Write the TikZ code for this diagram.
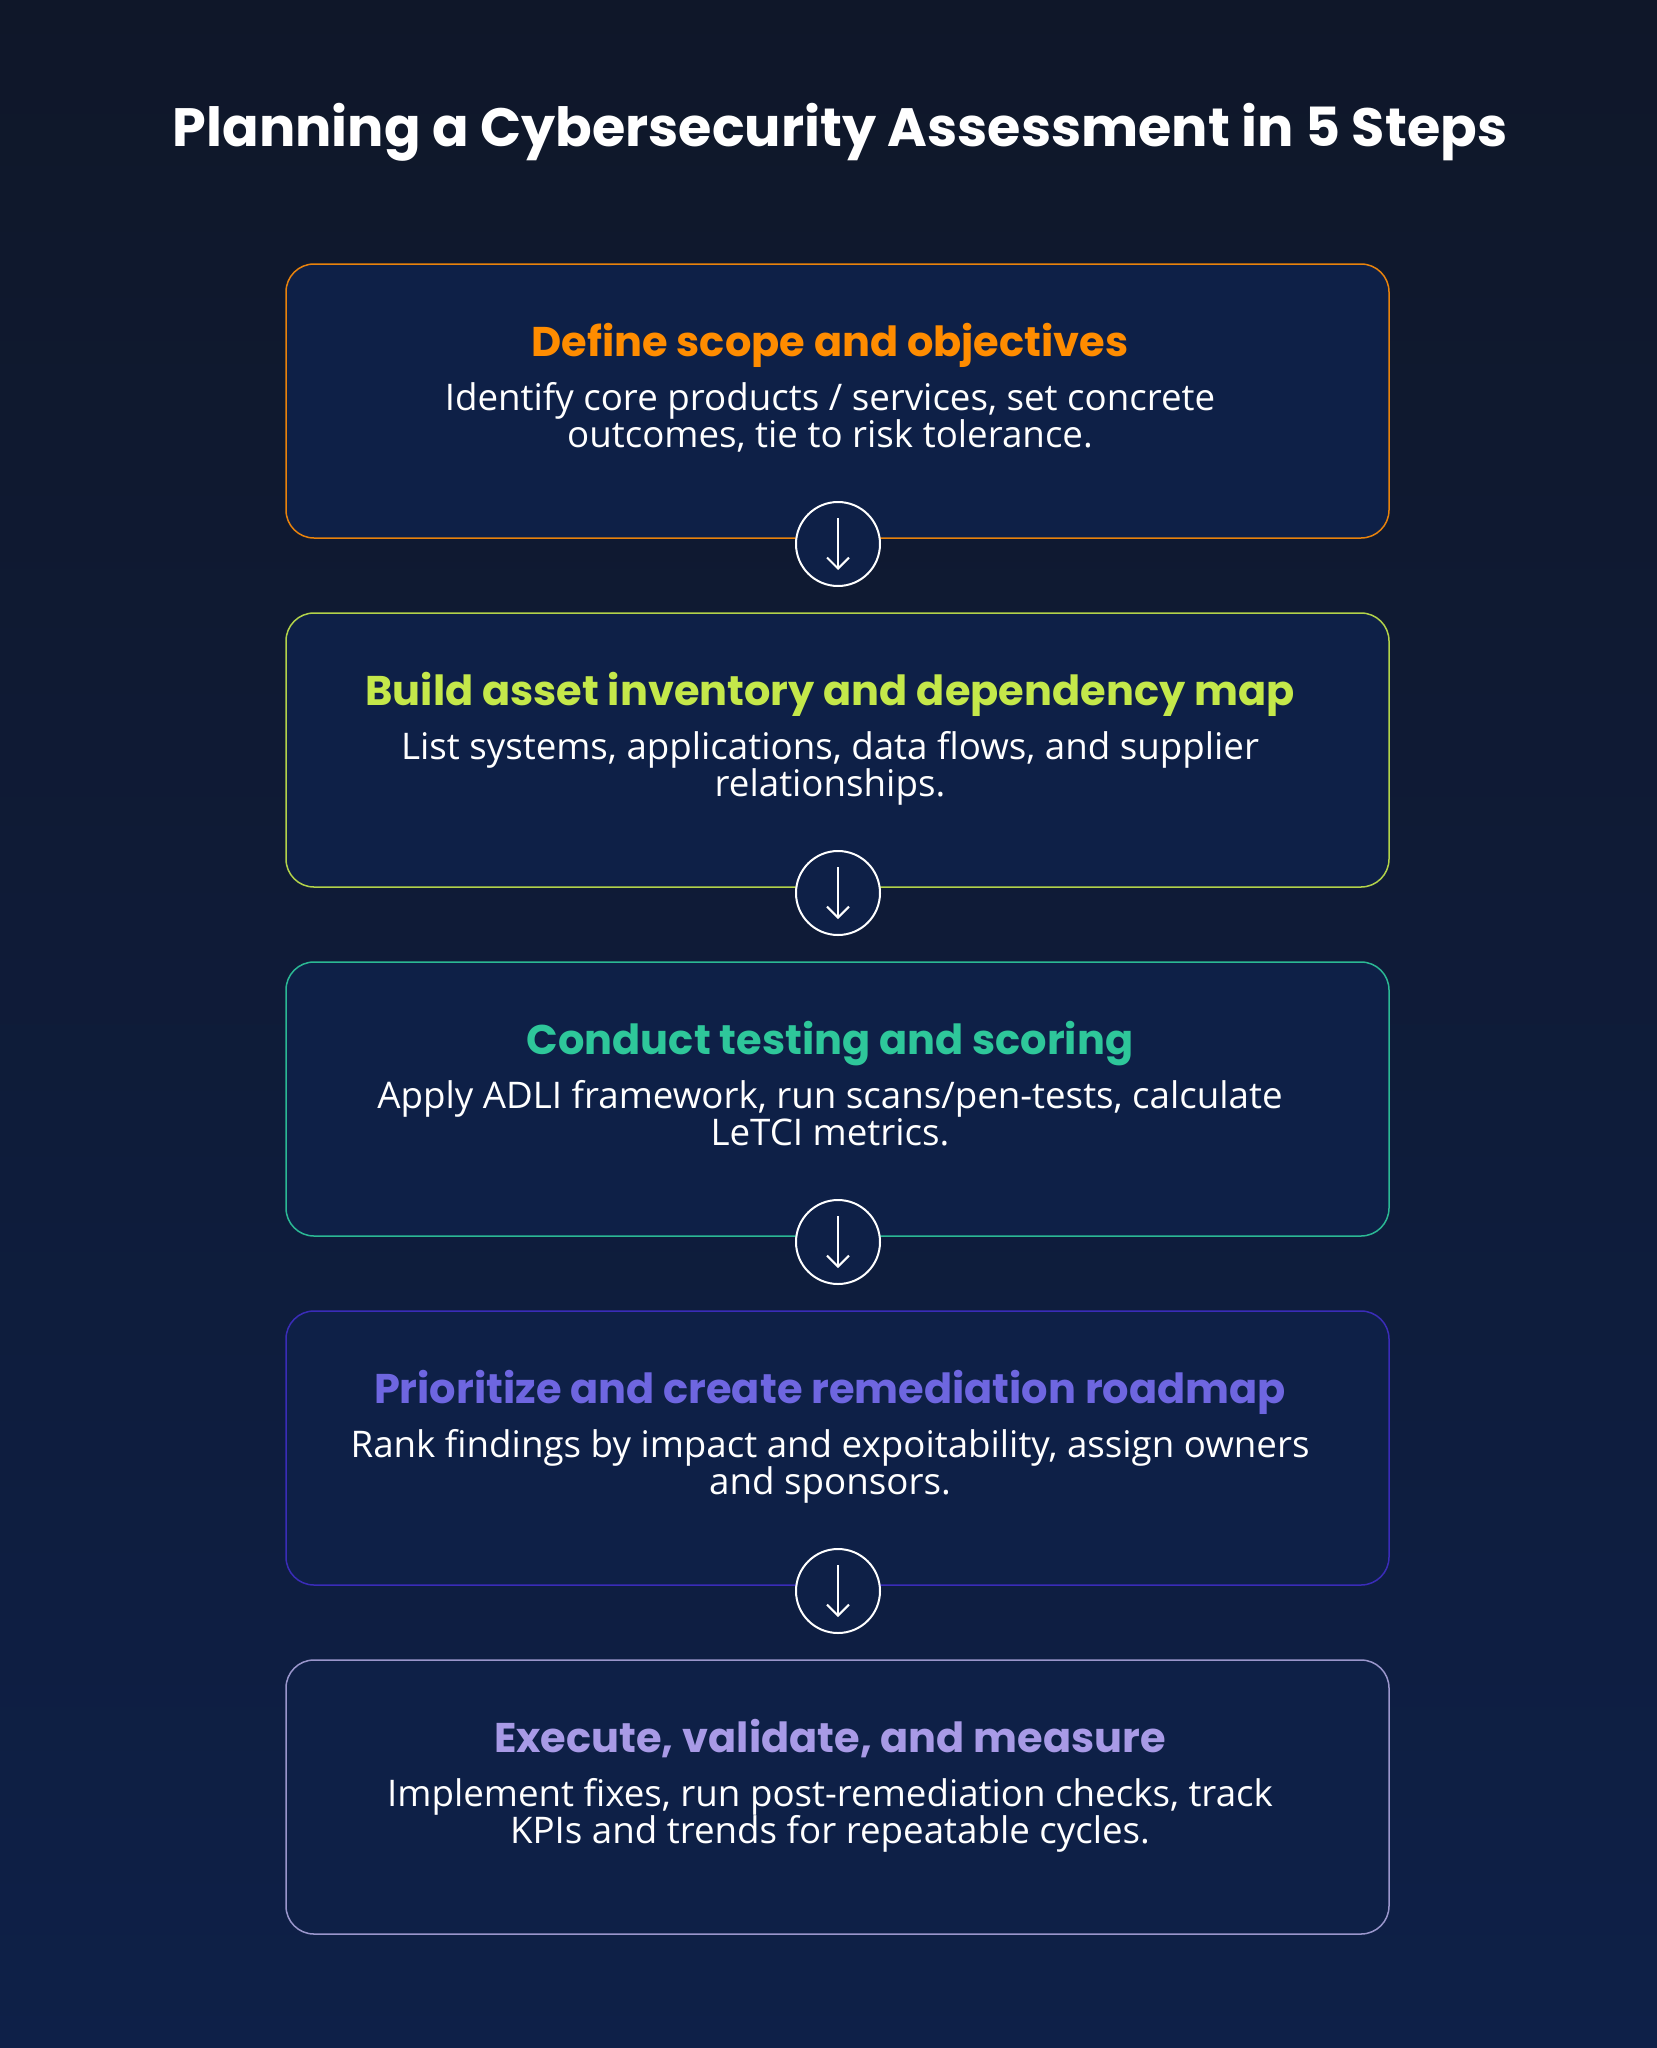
\documentclass[tikz,border=0pt]{standalone}
\usepackage{fontspec}
\setmainfont{Open Sans}
\newfontfamily\titlefont{Poppins}
\usetikzlibrary{arrows.meta}

\definecolor{bgtop}{HTML}{0F1729}
\definecolor{bgbot}{HTML}{0E2048}
\definecolor{boxfill}{HTML}{0E2047}
\definecolor{orangeC}{HTML}{FF8C00}
\definecolor{orangeB}{HTML}{E8820C}
\definecolor{limeC}{HTML}{C4E84A}
\definecolor{limeB}{HTML}{B2D24A}
\definecolor{tealC}{HTML}{2EC79A}
\definecolor{tealB}{HTML}{2BB894}
\definecolor{purpC}{HTML}{6E66E0}
\definecolor{purpB}{HTML}{3A2CB8}
\definecolor{lavC}{HTML}{A89AE6}
\definecolor{lavB}{HTML}{9A96CC}

\tikzset{
  stepbox/.style={draw=#1, line width=1.5pt, rounded corners=28pt, fill=boxfill,
    minimum width=1103pt, minimum height=274pt, inner sep=0pt},
  stephead/.style={text=#1, anchor=base, inner sep=0pt,
    font=\titlefont\bfseries\fontsize{41.5}{48}\selectfont},
  stepbody/.style={text=white, anchor=base, align=center, inner sep=0pt,
    font=\fontsize{36.7}{37}\selectfont},
  downcirc/.style={circle, draw=white, line width=2pt, fill=boxfill,
    minimum size=84pt, inner sep=0pt},
  downarr/.style={-{Straight Barb[length=11pt,width=22pt]}, white, line width=2pt}
}

\begin{document}
\begin{tikzpicture}[x=1pt,y=-1pt]
    \useasboundingbox (0,0) rectangle (1657,2048);
    \shade[top color=bgtop, bottom color=bgbot] (0,0) rectangle (1657,2048);

    \node[text=white, anchor=base, inner sep=0pt,
        font=\titlefont\bfseries\fontsize{54}{60}\selectfont] (title) at (840,146)
        {Planning a Cybersecurity Assessment in 5 Steps};

    % the five steps (body anchor = baseline of its last line)
    \node[stepbox=orangeB] (box1) at (837.5,401) {};
    \node[stephead=orangeC] (head1) at (830,356) {Define scope and objectives};
    \node[stepbody] (body1) at (830,447)
        {Identify core products / services, set concrete\\outcomes, tie to risk tolerance.};

    \node[stepbox=limeB] (box2) at (837.5,750) {};
    \node[stephead=limeC] (head2) at (830,705) {Build asset inventory and dependency map};
    \node[stepbody] (body2) at (830,796)
        {List systems, applications, data flows, and supplier\\relationships.};

    \node[stepbox=tealB] (box3) at (837.5,1099) {};
    \node[stephead=tealC] (head3) at (830,1054) {Conduct testing and scoring};
    \node[stepbody] (body3) at (830,1145)
        {Apply ADLI framework, run scans/pen-tests, calculate\\LeTCI metrics.};

    \node[stepbox=purpB] (box4) at (837.5,1448) {};
    \node[stephead=purpC] (head4) at (830,1403) {Prioritize and create remediation roadmap};
    \node[stepbody] (body4) at (830,1494)
        {Rank findings by impact and expoitability, assign owners\\and sponsors.};

    \node[stepbox=lavB] (box5) at (837.5,1797) {};
    \node[stephead=lavC] (head5) at (830,1752) {Execute, validate, and measure};
    \node[stepbody] (body5) at (830,1843)
        {Implement fixes, run post-remediation checks, track\\KPIs and trends for repeatable cycles.};

    % arrows between the steps
    \node[downcirc] (c1) at (838,544) {};
    \node[downcirc] (c2) at (838,893) {};
    \node[downcirc] (c3) at (838,1242) {};
    \node[downcirc] (c4) at (838,1591) {};
    \draw[downarr] ([yshift=26pt]c1.center) -- ([yshift=-26pt]c1.center);
    \draw[downarr] ([yshift=26pt]c2.center) -- ([yshift=-26pt]c2.center);
    \draw[downarr] ([yshift=26pt]c3.center) -- ([yshift=-26pt]c3.center);
    \draw[downarr] ([yshift=26pt]c4.center) -- ([yshift=-26pt]c4.center);
\end{tikzpicture}
\end{document}
